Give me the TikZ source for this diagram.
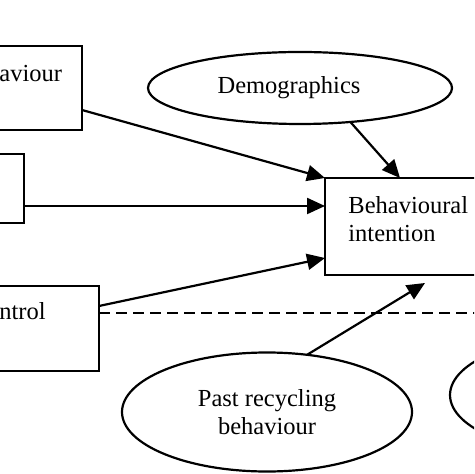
\documentclass[tikz,border=0pt]{standalone}
\usepackage{fontspec}
\setmainfont{Liberation Serif}
\usetikzlibrary{shapes.geometric, arrows.meta}

\begin{document}
\begin{tikzpicture}[x=0.5pt, y=-0.5pt,
    every node/.style={font=\fontsize{12.25}{14.2}\selectfont},
    box/.style={draw, line width=1.1pt, rectangle, inner sep=0pt, outer sep=0pt},
    oval/.style={draw, line width=1.1pt, ellipse, inner sep=0pt, outer sep=0pt},
    arr/.style={line width=1.1pt, -{Triangle[length=9pt, width=8pt]}},
    dashline/.style={line width=1.1pt, dash pattern=on 5.5pt off 3pt}]
\useasboundingbox (0,0) rectangle (474,474);
\clip (0,0) rectangle (474,474);

% boxes on the left (cut by the frame)
\node[box, minimum width=102pt, minimum height=42pt] (box1) at (-20,88) {};
\node[anchor=base west, inner sep=0pt] (box1txt) at (-1,82) {aviour};
\node[box, minimum width=87pt, minimum height=34.5pt] (box2) at (-63,188.5) {};
\node[box, minimum width=124.5pt, minimum height=42.5pt] (box3) at (-25.5,328.5) {};
\node[anchor=base west, inner sep=0pt] (box3txt) at (-1,320) {ntrol};

% intention
\node[box, minimum width=117.5pt, minimum height=48.5pt] (bi) at (442.5,226.5) {};
\node[anchor=west, align=left, inner sep=0pt] (bitxt) at (348,219) {Behavioural\\intention};

% ellipses
\node[oval, minimum width=152pt, minimum height=36pt] (dem) at (300,88) {Demographics\hspace*{11pt}};
\node[oval, minimum width=145pt, minimum height=59.5pt, align=center] (past) at (267,412) {Past recycling\\behaviour};
\node[oval, minimum width=145pt, minimum height=60pt] (other) at (595,395) {};

% arrows
\draw[arr] ([yshift=-11pt]box1.east) -- (bi.north west);
\draw[arr] ([yshift=-8.75pt]box2.east) coordinate (b2out) -- (b2out -| bi.west);
\draw[arr] ([yshift=11.25pt]box3.east) -- ([yshift=8.5pt]bi.south west);
\draw[arr] (dem.-34) -- ([xshift=-21.25pt]bi.north);
\coordinate (pastend) at ([xshift=-8.75pt, yshift=-4pt]bi.south);
\draw[arr] (past.55) -- (pastend);

% dashed line
\coordinate (dashend) at (480,313);
\draw[dashline] ([yshift=7.75pt]box3.east) -- (dashend);
\end{tikzpicture}
\end{document}
